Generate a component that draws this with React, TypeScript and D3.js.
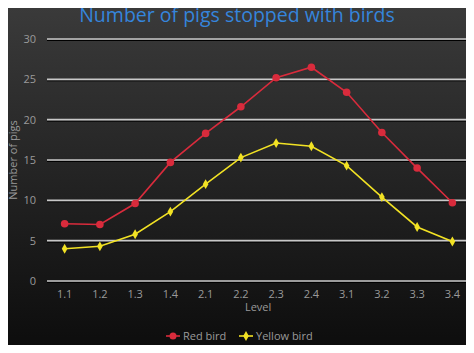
import { useEffect, useRef } from 'react';
import * as d3 from 'd3';

const levels = ['1.1', '1.2', '1.3', '1.4', '2.1', '2.2', '2.3', '2.4', '3.1', '3.2', '3.3', '3.4'];
const redBird = [7.1, 7.0, 9.6, 14.7, 18.3, 21.6, 25.2, 26.5, 23.4, 18.4, 14.0, 9.7];
const yellowBird = [4.0, 4.3, 5.8, 8.6, 12.0, 15.3, 17.1, 16.7, 14.3, 10.4, 6.7, 4.9];
const yTicks = [0, 5, 10, 15, 20, 25, 30];

const App = () => {
  const svgRef = useRef<SVGSVGElement>(null);

  useEffect(() => {
    const width = 474;
    const height = 353;
    const margin = { top: 39, right: 4, bottom: 72, left: 47 };
    const font = '"Open Sans", "DejaVu Sans", sans-serif';

    const svg = d3.select(svgRef.current).attr('width', width).attr('height', height);
    svg.selectAll('*').remove();

    // background gradient
    const defs = svg.append('defs');
    const grad = defs
      .append('linearGradient')
      .attr('id', 'bg')
      .attr('x1', 0)
      .attr('y1', 0)
      .attr('x2', 0)
      .attr('y2', 1);
    grad.append('stop').attr('offset', '0%').attr('stop-color', '#3b3b3b');
    grad.append('stop').attr('offset', '100%').attr('stop-color', '#0c0c0c');
    svg.append('rect').attr('width', width).attr('height', height).attr('fill', 'url(#bg)');

    const x = d3
      .scaleBand()
      .domain(levels)
      .range([margin.left, width - margin.right]);
    const y = d3
      .scaleLinear()
      .domain([0, 30])
      .range([height - margin.bottom, margin.top]);
    const cx = (d: string) => (x(d) ?? 0) + x.bandwidth() / 2;

    // title
    svg
      .append('text')
      .attr('x', 237)
      .attr('y', 22)
      .attr('text-anchor', 'middle')
      .attr('fill', '#3585dc')
      .attr('font-family', font)
      .attr('font-size', 19.5)
      .text('Number of pigs stopped with birds');

    // grid lines
    const grid = svg.append('g');
    yTicks.forEach((t) => {
      grid
        .append('line')
        .attr('x1', margin.left)
        .attr('x2', width - margin.right)
        .attr('y1', y(t) + 1.5)
        .attr('y2', y(t) + 1.5)
        .attr('stroke', '#000')
        .attr('stroke-width', 1);
      grid
        .append('line')
        .attr('x1', margin.left)
        .attr('x2', width - margin.right)
        .attr('y1', y(t))
        .attr('y2', y(t))
        .attr('stroke', '#c8c8c8')
        .attr('stroke-width', 1.6);
      grid
        .append('text')
        .attr('x', 36)
        .attr('y', y(t) + 4)
        .attr('text-anchor', 'end')
        .attr('fill', '#9a9a9a')
        .attr('font-family', font)
        .attr('font-size', 11)
        .text(t);
    });

    // x labels
    svg
      .append('g')
      .selectAll('text')
      .data(levels)
      .join('text')
      .attr('x', (d) => cx(d))
      .attr('y', y(0) + 17)
      .attr('text-anchor', 'middle')
      .attr('fill', '#9a9a9a')
      .attr('font-family', font)
      .attr('font-size', 11)
      .text((d) => d);

    // axis titles
    svg
      .append('text')
      .attr('x', cx('2.3') - 18)
      .attr('y', 311)
      .attr('text-anchor', 'middle')
      .attr('fill', '#9a9a9a')
      .attr('font-family', font)
      .attr('font-size', 11)
      .text('Level');
    svg
      .append('text')
      .attr('transform', `translate(17,${(y(0) + y(30)) / 2}) rotate(-90)`)
      .attr('text-anchor', 'middle')
      .attr('fill', '#9a9a9a')
      .attr('font-family', font)
      .attr('font-size', 11)
      .text('Number of pigs');

    const series = [
      { name: 'Red bird', values: redBird, color: '#d92b3c', marker: 'circle' },
      { name: 'Yellow bird', values: yellowBird, color: '#f2e224', marker: 'diamond' },
    ];

    const diamond = d3.symbol().type(d3.symbolDiamond).size(28);

    series.forEach((s) => {
      const line = d3
        .line<number>()
        .x((_, i) => cx(levels[i]))
        .y((d) => y(d));
      svg
        .append('path')
        .attr('d', line(s.values))
        .attr('fill', 'none')
        .attr('stroke', s.color)
        .attr('stroke-width', 1.6);
      const g = svg.append('g');
      if (s.marker === 'circle') {
        g.selectAll('circle')
          .data(s.values)
          .join('circle')
          .attr('cx', (_, i) => cx(levels[i]))
          .attr('cy', (d) => y(d))
          .attr('r', 3.8)
          .attr('fill', s.color);
      } else {
        g.selectAll('path')
          .data(s.values)
          .join('path')
          .attr('d', diamond)
          .attr('transform', (d, i) => `translate(${cx(levels[i])},${y(d)})`)
          .attr('fill', s.color);
      }
    });

    // legend
    const legend = svg.append('g').attr('font-family', font).attr('font-size', 11);
    const items = [
      { name: 'Red bird', color: '#d92b3c', x: 166, marker: 'circle' },
      { name: 'Yellow bird', color: '#f2e224', x: 239, marker: 'diamond' },
    ];
    items.forEach((it) => {
      const ly = 336;
      legend
        .append('line')
        .attr('x1', it.x)
        .attr('x2', it.x + 14)
        .attr('y1', ly)
        .attr('y2', ly)
        .attr('stroke', it.color)
        .attr('stroke-width', 1.6);
      if (it.marker === 'circle') {
        legend.append('circle').attr('cx', it.x + 7).attr('cy', ly).attr('r', 3.5).attr('fill', it.color);
      } else {
        legend
          .append('path')
          .attr('d', diamond)
          .attr('transform', `translate(${it.x + 7},${ly})`)
          .attr('fill', it.color);
      }
      legend
        .append('text')
        .attr('x', it.x + 17)
        .attr('y', ly + 4)
        .attr('fill', '#9a9a9a')
        .text(it.name);
    });
  }, []);

  return (
    <div style={{ margin: -8 }}>
      <svg ref={svgRef} style={{ display: 'block' }}></svg>
    </div>
  );
};

export default App;
